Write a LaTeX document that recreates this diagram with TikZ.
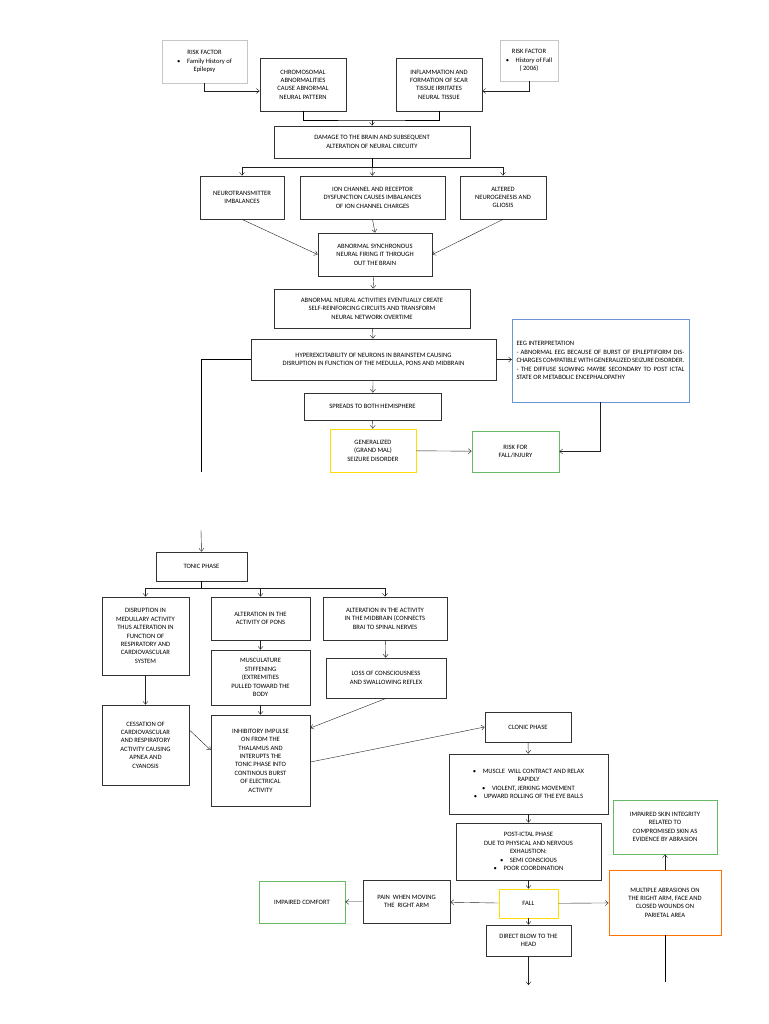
\documentclass[tikz,border=0pt]{standalone}
\usepackage{fontspec}
\setmainfont{Carlito}
\usetikzlibrary{arrows.meta}
\begin{document}
\begin{tikzpicture}[x=1pt,y=-1pt,font=\fontsize{6.6}{8.4}\selectfont,
    % styles
    box/.style={draw=gray!40!black,thick,fill=white,align=center,inner sep=1pt},
    light box/.style={box,draw=gray!45,thin},
    yellow box/.style={box,draw=yellow!80!orange},
    green box/.style={box,draw=green!55!black!60},
    blue box/.style={box,draw=cyan!45!blue!60,thin},
    orange box/.style={box,draw=orange!90!red},
    flow/.style={-{Straight Barb[length=3pt,width=5pt]},gray!25!black,thin}]

  \useasboundingbox (0,0) rectangle (768,1024);

  % risk factors and causes
  \node[light box,minimum width=85,minimum height=43] (rfa) at (204.5,61.5) {RISK FACTOR\\ \textbullet\quad Family History of\\ Epilepsy};
  \node[box,minimum width=86,minimum height=53] (chrom) at (303,84.5) {CHROMOSOMAL\\ ABNORMALITIES\\ CAUSE ABNORMAL\\ NEURAL PATTERN};
  \node[box,minimum width=86,minimum height=53] (infl) at (439,84.5) {INFLAMMATION AND\\ FORMATION OF SCAR\\ TISSUE IRRITATES\\ NEURAL TISSUE};
  \node[light box,minimum width=58,minimum height=41] (rfb) at (529,60.5) {RISK FACTOR\\ \textbullet\quad History of Fall\\ ( 2006)};
  \node[box,minimum width=196,minimum height=32] (damage) at (372,142) {DAMAGE TO THE BRAIN AND SUBSEQUENT\\ ALTERATION OF NEURAL CIRCUITY};

  % mechanisms
  \node[box,minimum width=84,minimum height=43] (neuro) at (242,197.5) {NEUROTRANSMITTER\\ IMBALANCES};
  \node[box,minimum width=145,minimum height=43] (ion) at (372.5,197.5) {ION CHANNEL AND RECEPTOR\\ DYSFUNCTION CAUSES IMBALANCES\\ OF ION CHANNEL CHARGES};
  \node[box,minimum width=86,minimum height=43] (altneuro) at (503,197.5) {ALTERED\\ NEUROGENESIS AND\\ GLIOSIS};
  \node[box,minimum width=114,minimum height=43] (sync) at (375,254.5) {ABNORMAL SYNCHRONOUS\\ NEURAL FIRING IT THROUGH\\ OUT THE BRAIN};
  \node[box,minimum width=196,minimum height=39] (circuit) at (372,308.5) {ABNORMAL NEURAL ACTIVITIES EVENTUALLY CREATE\\ SELF-REINFORCING CIRCUITS AND TRANSFORM\\ NEURAL NETWORK OVERTIME};
  \node[box,minimum width=245,minimum height=41] (hyper) at (373.5,359.5) {HYPEREXCITABILITY OF NEURONS IN BRAINSTEM CAUSING\\ DISRUPTION IN FUNCTION OF THE MEDULLA, PONS AND MIDBRAIN};
  \node[blue box,minimum width=177,minimum height=83,text width=168,align=justify] (eeg) at (600.5,360.5) {EEG INTERPRETATION\\ - ABNORMAL EEG BECAUSE OF BURST OF EPILEPTIFORM DISCHARGES COMPATIBLE WITH GENERALIZED SEIZURE DISORDER.\\ - THE DIFFUSE SLOWING MAYBE SECONDARY TO POST ICTAL STATE OR METABOLIC ENCEPHALOPATHY};
  \node[box,minimum width=137,minimum height=27] (spread) at (372.5,406.5) {SPREADS TO BOTH HEMISPHERE};
  \node[yellow box,minimum width=86,minimum height=43] (general) at (373,450.5) {GENERALIZED\\ (GRAND MAL)\\ SEIZURE DISORDER};
  \node[green box,minimum width=87,minimum height=41] (riskfall) at (515.5,451.5) {RISK FOR\\ FALL/INJURY};

  % tonic phase
  \coordinate (cont) at (201,530);
  \node[box,minimum width=91,minimum height=29] (tonic) at (201.5,566.5) {TONIC PHASE};
  \node[box,minimum width=87,minimum height=78] (medul) at (145.5,636) {DISRUPTION IN\\ MEDULLARY ACTIVITY\\ THUS ALTERATION IN\\ FUNCTION OF\\ RESPIRATORY AND\\ CARDIOVASCULAR\\ SYSTEM};
  \node[box,minimum width=99,minimum height=43] (pons) at (260.5,618.5) {ALTERATION IN THE\\ ACTIVITY OF PONS};
  \node[box,minimum width=124,minimum height=43] (midbrain) at (385,618.5) {ALTERATION IN THE ACTIVITY\\ IN THE MIDBRAIN (CONNECTS\\ BRAI TO SPINAL NERVES};
  \node[box,minimum width=99,minimum height=55] (stiff) at (260.5,677.5) {MUSCULATURE\\ STIFFENING\\ (EXTREMITIES\\ PULLED TOWARD THE\\ BODY};
  \node[box,minimum width=120,minimum height=40] (loss) at (386,678) {LOSS OF CONSCIOUSNESS\\ AND SWALLOWING REFLEX};
  \node[box,minimum width=87,minimum height=80] (cessat) at (145.5,745) {CESSATION OF\\ CARDIOVASCULAR\\ AND RESPIRATORY\\ ACTIVITY CAUSING\\ APNEA AND\\ CYANOSIS};
  \node[box,minimum width=99,minimum height=91] (inhib) at (260.5,760.5) {INHIBITORY IMPULSE\\ ON FROM THE\\ THALAMUS AND\\ INTERUPTS THE\\ TONIC PHASE INTO\\ CONTINOUS BURST\\ OF ELECTRICAL\\ ACTIVITY};

  % clonic and post-ictal phase
  \node[box,minimum width=86,minimum height=30] (clonic) at (528,727) {CLONIC PHASE};
  \node[box,minimum width=159,minimum height=60] (signs) at (528.5,784) {\textbullet\quad MUSCLE\ \ WILL CONTRACT AND RELAX\\ RAPIDLY\\ \textbullet\quad VIOLENT, JERKING MOVEMENT\\ \textbullet\quad UPWARD ROLLING OF THE EYE BALLS};
  \node[box,minimum width=145,minimum height=57] (postictal) at (528.5,851.5) {POST-ICTAL PHASE\\ DUE TO PHYSICAL AND NERVOUS\\ EXHAUSTION:\\ \textbullet\quad SEMI CONSCIOUS\\ \textbullet\quad POOR COORDINATION};
  \node[green box,minimum width=104,minimum height=54] (skin) at (665,827) {IMPAIRED SKIN INTEGRITY\\ RELATED TO\\ COMPROMISED SKIN AS\\ EVIDENCE BY ABRASION};
  \node[yellow box,minimum width=59,minimum height=29] (fall) at (528.5,903.5) {FALL};
  \node[orange box,minimum width=112,minimum height=65] (abrasion) at (665,902.5) {MULTIPLE ABRASIONS ON\\ THE RIGHT ARM, FACE AND\\ CLOSED WOUNDS ON\\ PARIETAL AREA};
  \node[box,minimum width=87,minimum height=43] (pain) at (406.5,901.5) {PAIN\ \ WHEN MOVING\\ THE\ \ RIGHT ARM};
  \node[green box,minimum width=86,minimum height=42] (comfort) at (302,902) {IMPAIRED COMFORT};
  \node[box,minimum width=85,minimum height=31] (blow) at (528.5,940.5) {DIRECT BLOW TO THE\\ HEAD};
  \coordinate (blowend) at (528.5,985);
  \coordinate (abrstart) at (665,982);

  % connectors
  \draw[flow] (rfa.south) |- (chrom.west |- 0,91);
  \draw[flow] (rfb.south) |- (infl.east |- 0,91);
  \draw[thin] (chrom.south) |- (372,120) -| (infl.south);
  \draw[flow] (372,120) -- (damage.north);
  \draw[thin] (damage.south) -- (372,167);
  \draw[flow] (372,167) -| (neuro.north);
  \draw[flow] (372,167) -- (ion.north);
  \draw[flow] (372,167) -| (altneuro.north);
  \draw[flow] (neuro.south) -- (sync.west);
  \draw[flow] (ion.south) -- (sync.north);
  \draw[flow] (altneuro.south) -- (sync.east);
  \draw[flow] (sync) -- (circuit);
  \draw[flow] (circuit) -- (hyper);
  \draw[flow] (hyper) -- (spread);
  \draw[flow] (spread) -- (general);
  \draw[flow] (hyper.east) -- (eeg.west |- hyper.east);
  \draw[flow] (general) -- (riskfall);
  \draw[flow] (eeg.south) |- (riskfall.east);
  \draw[thin] (hyper.west) -| (201,472);
  \draw[flow] (cont) -- (tonic.north);
  \draw[thin] (tonic.south) -- (201.5,588);
  \draw[flow] (201.5,588) -| (medul.north);
  \draw[flow] (201.5,588) -| (pons.north);
  \draw[flow] (201.5,588) -| (midbrain.north);
  \draw[flow] (medul) -- (cessat);
  \draw[flow] (pons) -- (stiff);
  \draw[flow] (midbrain) -- (loss);
  \draw[flow] (stiff) -- (inhib);
  \draw[flow] (loss.south) -- (inhib.east |- 0,728);
  \draw[flow] (cessat.east |- 0,730) -- (inhib.west |- 0,750);
  \draw[flow] (inhib.east |- 0,762) -- (clonic.west);
  \draw[flow] (clonic) -- (signs);
  \draw[flow] (signs) -- (postictal);
  \draw[flow] (postictal) -- (fall);
  \draw[flow] (fall) -- (blow);
  \draw[flow] (blow) -- (blowend);
  \draw[flow] (fall) -- (pain);
  \draw[flow] (pain) -- (comfort);
  \draw[flow] (fall) -- (abrasion);
  \draw[flow] (abrasion) -- (skin);
  \draw[thin] (abrstart) -- (abrasion.south);
\end{tikzpicture}
\end{document}
